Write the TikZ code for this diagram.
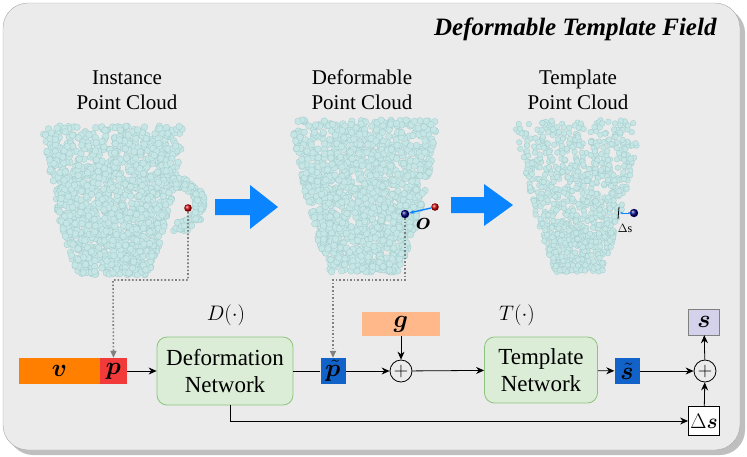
\documentclass[tikz,border=0pt]{standalone}
\usepackage{fix-cm}
\usepackage{fontspec}
\setmainfont{Liberation Serif}
\usepackage{amsmath,bm}
\usetikzlibrary{arrows.meta,calc}
\definecolor{bg}{HTML}{EBEBEB}
\definecolor{gfill}{HTML}{DCEDD7}
\definecolor{gdraw}{HTML}{8CC47E}
\definecolor{vcol}{HTML}{FF7F00}
\definecolor{pcol}{HTML}{F23A3A}
\definecolor{bcol}{HTML}{1263C9}
\definecolor{gcol}{HTML}{FFB88A}
\definecolor{scol}{HTML}{D4D2EA}
\definecolor{arr}{HTML}{0A84FF}
\definecolor{dotf}{HTML}{C6E6E6}
\definecolor{dotd}{HTML}{A2CACA}
\tikzset{
 net/.style={draw=gdraw,fill=gfill,rounded corners=10pt,thick,align=center,font=\fontsize{23}{27}\selectfont},
 sq/.style={minimum width=25pt,minimum height=26pt,inner sep=0pt},
 mth/.style={font=\fontsize{21}{24}\selectfont},
 bmth/.style={font=\fontsize{25}{26}\selectfont},
 con/.style={-{Stealth[length=8pt,width=7pt]},thick},
 dotted line/.style={gray,dotted,line width=1.6pt,-{Triangle[length=7pt,width=6pt]}},
 lab/.style={align=center,font=\fontsize{21}{25}\selectfont},
 pt/.style={fill=dotf,draw=dotd,line width=0.3pt},
 oplus/.style={circle,draw,thick,minimum size=22pt,inner sep=0pt,font=\fontsize{20}{20}\selectfont}
}
\newcommand{\cloud}[7]{% cx, ytop, hwtop, ybot, hwbot, n, radius
 \foreach \i in {1,...,#6}{
  \pgfmathsetmacro{\t}{rnd}
  \pgfmathsetmacro{\yy}{#2+\t*(#4-#2)}
  \pgfmathsetmacro{\ww}{(#3+\t*(#5-#3))*(1-0.25*\t*\t*\t*\t)}
  \pgfmathsetmacro{\xx}{#1+(2*rnd-1)*\ww}
  \path[pt] (\xx,\yy) circle (#7);
 }}
\begin{document}
\begin{tikzpicture}[x=1pt,y=-1pt]
\useasboundingbox (0,0) rectangle (747,456);
\fill[gray!50,rounded corners=25pt] (8,8) rectangle (745,455);
\draw[gray!70,fill=bg,rounded corners=25pt] (3,3) rectangle (740,450);
\node[font=\fontsize{25}{28}\selectfont\bfseries\itshape,anchor=east] (title) at (720,29) {Deformable Template Field};
\node[lab] (l1) at (127,90) {Instance\\Point Cloud};
\node[lab] (l2) at (362,90) {Deformable\\Point Cloud};
\node[lab] (l3) at (578,90) {Template\\Point Cloud};
\pgfmathsetseed{7}
\cloud{113}{126}{72}{275}{46}{1300}{3.3}
\foreach \i in {1,...,140}{
  \pgfmathsetmacro{\a}{-100+200*rnd}
  \pgfmathsetmacro{\r}{17+10*rnd}
  \path[pt] ($(178,205)+(\a:\r)$) circle (3.2);
}
\cloud{365}{120}{74}{272}{46}{1300}{3.3}
\cloud{578}{120}{64}{272}{32}{900}{2.8}
% blue arrows
\fill[arr] (215,199)--(250,199)--(250,185)--(278,207)--(250,229)--(250,215)--(215,215)--cycle;
\fill[arr] (451,197)--(484,197)--(484,184)--(513,205)--(484,226)--(484,213)--(451,213)--cycle;
% markers
\shade[ball color=red!80!black] (188,208) circle (3.8);
\coordinate (d1) at (188,212);
\shade[ball color=blue!50!black] (405,214) circle (4.2);
\shade[ball color=red!80!black] (435,207) circle (3.8);
\draw[arr,line width=1.4pt,-{Stealth[length=5pt]}] (431,208) -- (409,213);
\node[bmth] (o) at (423,224) {$\bm{o}$};
\coordinate (d2) at (405,218);
\shade[ball color=blue!50!black] (634,213) circle (4.2);
\draw[thick] (619,207)--(618,219);
\draw[arr,line width=0.8pt,{Stealth[length=3pt]}-{Stealth[length=3pt]}] (620,213)--(631,213);
\node[font=\fontsize{12}{12}\selectfont] (ds) at (625,228) {$\Delta$s};
% bottom row
\node[fill=vcol,minimum width=81pt,minimum height=26pt,inner sep=0pt,bmth] (v) at (59.5,371) {$\bm{v}$};
\node[fill=pcol,sq,minimum width=27pt,bmth] (p) at (113.5,371) {$\bm{p}$};
\node[net,minimum width=136pt,minimum height=68pt] (dn) at (225,371) {Deformation\\Network};
\node[mth] (D) at (226,315) {$D(\cdot)$};
\node[fill=bcol,sq,bmth] (pt) at (333,371) {$\tilde{\bm p}$};
\node[fill=gcol,minimum width=78pt,minimum height=24pt,inner sep=0pt,bmth] (g) at (401,324) {$\bm{g}$};
\node[oplus] (o1) at (401,371) {$+$};
\node[mth] (T) at (517,315) {$T(\cdot)$};
\node[net,minimum width=113pt,minimum height=66pt] (tn) at (541,370) {Template\\Network};
\node[fill=bcol,sq,bmth] (st) at (627,371) {$\tilde{\bm s}$};
\node[oplus] (o2) at (705,371) {$+$};
\node[fill=scol,draw=gray,sq,minimum width=31pt,bmth] (s) at (704,322) {$\bm{s}$};
\node[fill=white,draw,thick,sq,minimum width=31pt,minimum height=29pt,mth] (dsb) at (704,421) {$\Delta\bm{s}$};
% connectors
\draw[dotted line] (d1) |- (113,280) -- (p.north);
\draw[dotted line] (d2) |- (333,280) -- (pt.north);
\draw[con] (p) -- (dn);
\draw[thick] (dn) -- (pt);
\draw[con] (pt) -- (o1);
\draw[con] (g) -- (o1);
\draw[con] (o1) -- (tn);
\draw[con] (tn) -- (st);
\draw[con] (st) -- (o2);
\draw[con] (o2) -- (s);
\draw[con] (dsb) -- (o2);
\draw[con] ([xshift=5pt]dn.south) |- (dsb.west);
\end{tikzpicture}
\end{document}
